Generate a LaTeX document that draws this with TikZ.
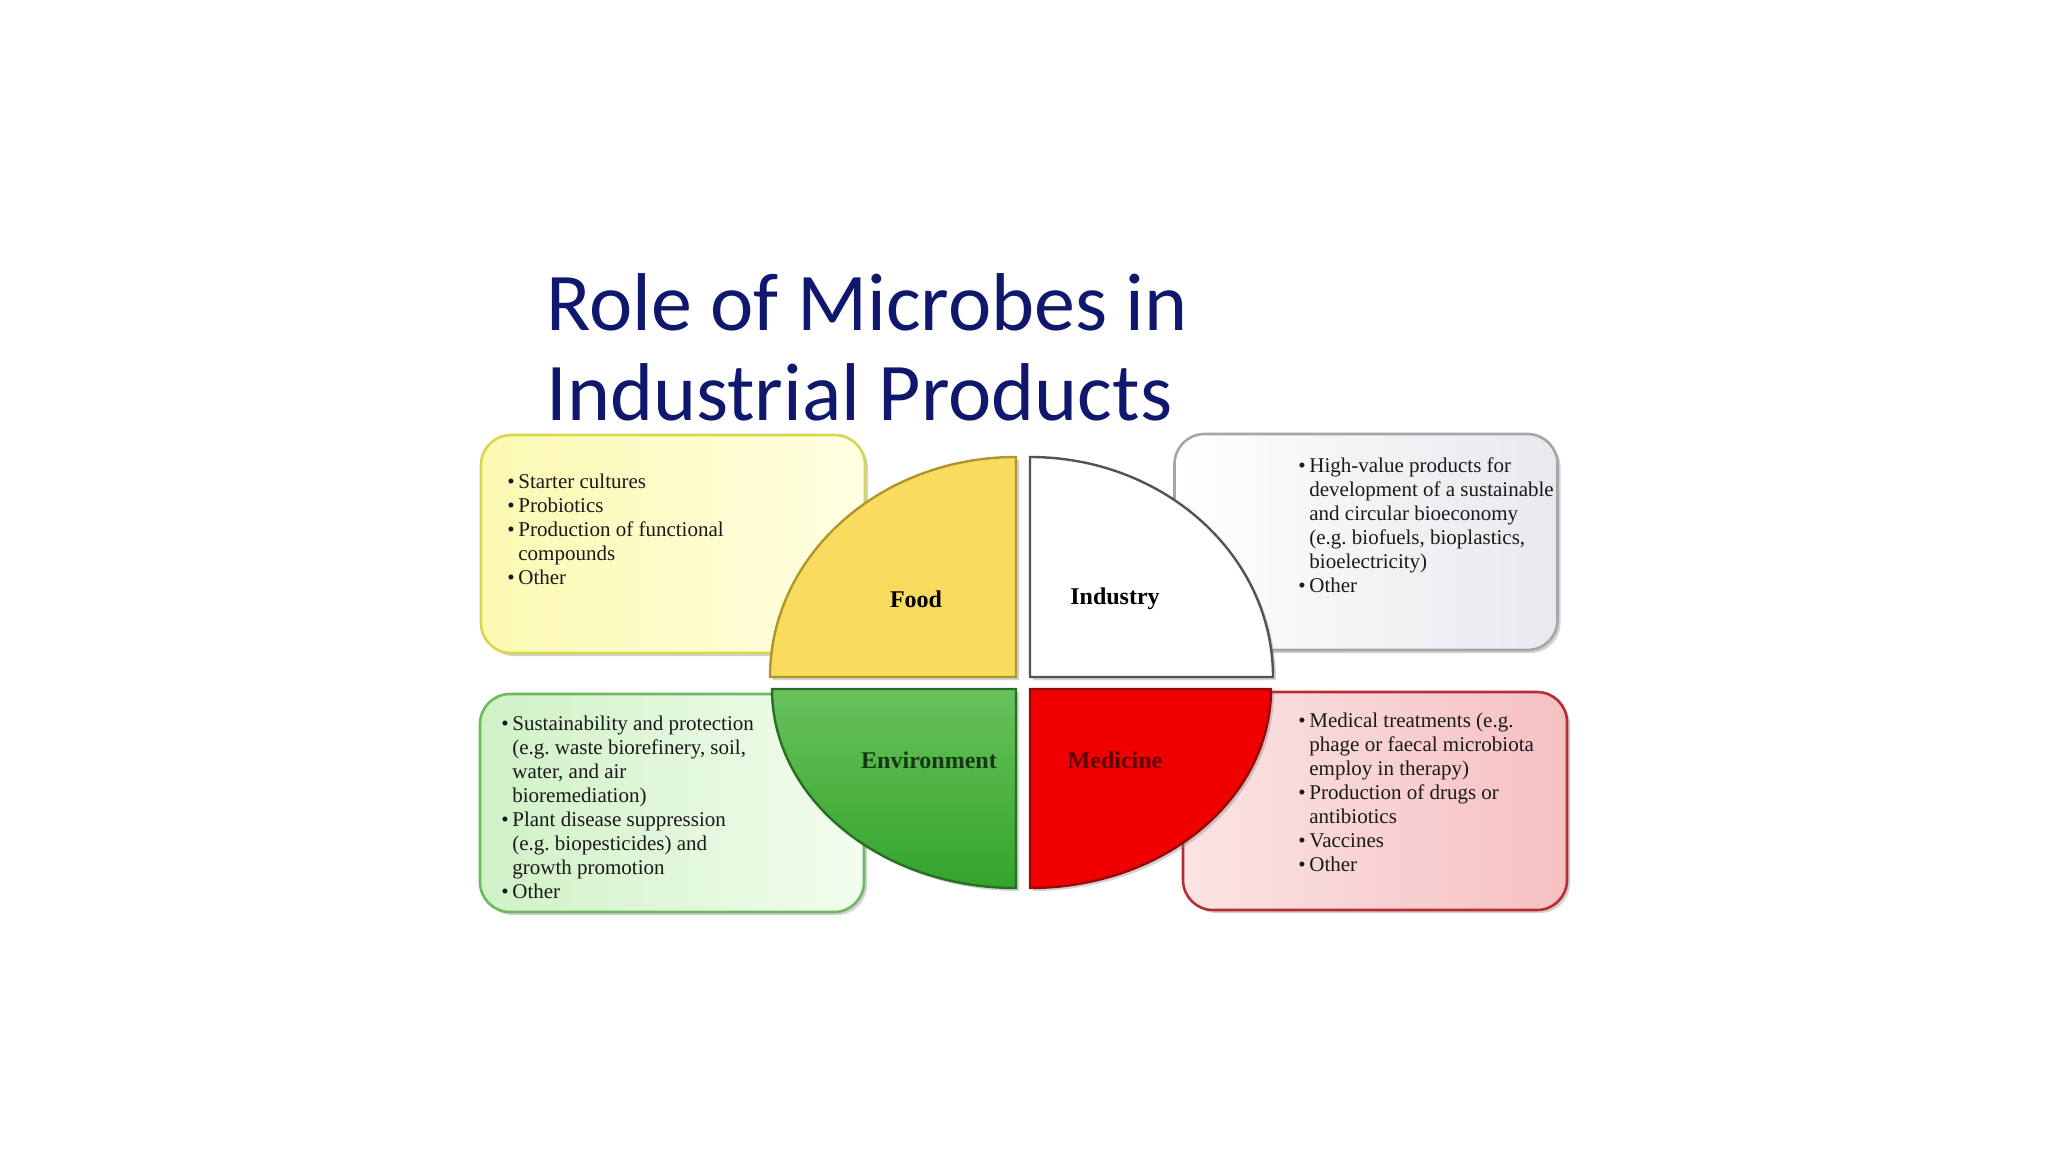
\documentclass[tikz,border=0pt]{standalone}
\usepackage{fontspec}
\setmainfont{Liberation Serif}
\newfontfamily\ttlfont{Carlito}
\usepackage{xcolor}
\usetikzlibrary{shadows}
\frenchspacing
\definecolor{ttlblue}{RGB}{16,24,110}
\definecolor{foodfill}{RGB}{249,220,94}
\definecolor{fooddraw}{RGB}{175,150,40}
\definecolor{envtop}{RGB}{104,194,92}
\definecolor{envbot}{RGB}{52,164,44}
\definecolor{envdraw}{RGB}{40,110,35}
\definecolor{medfill}{RGB}{240,0,0}
\definecolor{meddraw}{RGB}{150,10,10}
\newcommand{\lbul}{\makebox[5.5pt][l]{\textbullet}}
\newcommand{\lind}{\hspace*{5.5pt}}

\begin{document}
\begin{tikzpicture}[
  x=0.5pt, y=-0.5pt,
  bx/.style={rectangle, rounded corners=15pt, line width=1.3pt,
             minimum width=192pt, minimum height=109pt,
             drop shadow={opacity=0.35, shadow xshift=1.5pt, shadow yshift=-1.5pt}},
  qtr/.style={line width=1.2pt,
              drop shadow={opacity=0.35, shadow xshift=1.5pt, shadow yshift=-1.5pt}},
  qlab/.style={font=\fontsize{12}{14}\selectfont\bfseries},
  lst/.style={anchor=base west, align=left, inner sep=0pt,
              font=\fontsize{10.5}{12}\selectfont, text=black!90}
]
\useasboundingbox[fill=white] (0,0) rectangle (2048,1152);
%% title (base = last line)
\node[anchor=base west, align=left, inner sep=0pt, text=ttlblue,
      font=\ttlfont\fontsize{41}{45}\selectfont] (title) at (546,420)
      {Role of Microbes in\\Industrial Products};
%% boxes
\node[bx, draw={rgb,255:red,214;green,214;blue,80},
      left color={rgb,255:red,252;green,249;blue,178},
      right color={rgb,255:red,255;green,255;blue,226}] (foodbox) at (673,544) {};
\node[bx, draw=gray!70,
      left color=white, right color={rgb,255:red,232;green,232;blue,238},
      minimum width=191.5pt, minimum height=108pt] (indbox) at (1366,542) {};
\node[bx, draw={rgb,255:red,110;green,185;blue,95},
      left color={rgb,255:red,208;green,241;blue,198},
      right color={rgb,255:red,242;green,253;blue,238}] (envbox) at (672,803) {};
\node[bx, draw={rgb,255:red,185;green,45;blue,50},
      left color={rgb,255:red,251;green,228;blue,228},
      right color={rgb,255:red,246;green,192;blue,194}] (medbox) at (1375,801) {};
%% quarters
\path[qtr, draw=fooddraw, fill=foodfill]
  (1016,677) -- (770,677) arc[start angle=180, end angle=270, x radius=246, y radius=220] -- cycle;
\path[qtr, draw=gray!65!black, fill=white]
  (1030,677) -- (1030,457) arc[start angle=270, end angle=360, x radius=243, y radius=220] -- cycle;
\path[qtr, draw=envdraw, top color=envtop, bottom color=envbot]
  (1016,689) -- (772,689) arc[start angle=180, end angle=90, x radius=244, y radius=199] -- cycle;
\path[qtr, draw=meddraw, fill=medfill]
  (1030,689) -- (1271,689) arc[start angle=0, end angle=90, x radius=241, y radius=199] -- cycle;
%% quarter labels
\node[qlab] (food) at (916,599) {Food};
\node[qlab] (industry) at (1115,599) {Industry};
\node[qlab, text={rgb,255:red,20;green,55;blue,20}] (environment) at (929,760) {Environment};
\node[qlab, text={rgb,255:red,95;green,0;blue,0}] (medicine) at (1115,760) {Medicine};
%% lists (placed by the baseline of their last line)
\node[lst] (foodlist) at (507,584)
  {\lbul Starter cultures\\
   \lbul Probiotics\\
   \lbul Production of functional\\
   \lind compounds\\
   \lbul Other};
\node[lst] (indlist) at (1298,592)
  {\lbul High-value products for\\
   \lind development of a sustainable\\
   \lind and circular bioeconomy\\
   \lind (e.g. biofuels, bioplastics,\\
   \lind bioelectricity)\\
   \lbul Other};
\node[lst] (envlist) at (501,898)
  {\lbul Sustainability and protection\\
   \lind (e.g. waste biorefinery, soil,\\
   \lind water, and air\\
   \lind bioremediation)\\
   \lbul Plant disease suppression\\
   \lind (e.g. biopesticides) and\\
   \lind growth promotion\\
   \lbul Other};
\node[lst] (medlist) at (1298,871)
  {\lbul Medical treatments (e.g.\\
   \lind phage or faecal microbiota\\
   \lind employ in therapy)\\
   \lbul Production of drugs or\\
   \lind antibiotics\\
   \lbul Vaccines\\
   \lbul Other};
\end{tikzpicture}
\end{document}
